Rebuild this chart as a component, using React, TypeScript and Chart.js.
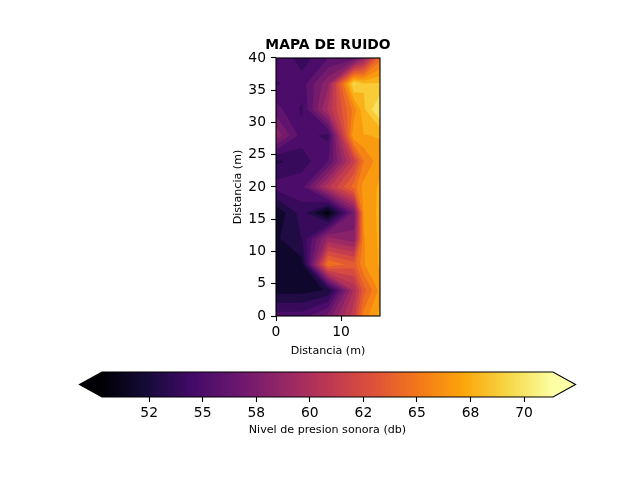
import React, { useRef, useEffect } from "react";
import Chart from "chart.js/auto";

// grid of the map
const distX = [0, 4, 8, 12, 13.5, 16];
const distY = [0, 4, 8, 12, 16, 20, 24, 28, 32, 36, 40];
// one row per distY, one value per distX
const noise = [
  [55, 55, 57, 61.5, 65.5, 67.5],
  [52, 52, 52.5, 60, 63.5, 66.5],
  [52, 52, 65, 63.5, 66, 67.3],
  [52.2, 53.5, 59, 58, 66, 67.4],
  [51.5, 54, 50.5, 57, 66.3, 67.4],
  [55, 55.2, 60.5, 64.5, 66.5, 67.3],
  [53.2, 54, 55.5, 61.5, 65, 66.8],
  [58.5, 55, 54.2, 67, 67.1, 67.2],
  [56, 54.3, 60, 65.5, 68, 70.5],
  [54.4, 55, 58.5, 69.5, 68.3, 68.3],
  [55.5, 54, 55.5, 56, 58.5, 64.5],
];

const xTicks = [0, 10];
const yTicks = [0, 5, 10, 15, 20, 25, 30, 35, 40];
const barTicks = [52.5, 55, 57.5, 60, 62.5, 65, 67.5, 70];
const barTickLabels = ["52", "55", "58", "60", "62", "65", "68", "70"];

const levelMin = 50.3;
const levelMax = 71.35;
const levelCount = 20;
const barSteps = 150;
const levels = Array.from({ length: levelCount + 1 }, (_, i) => levelMin + ((levelMax - levelMin) * i) / levelCount);

const inferno = [
  [0, 0, 4],
  [22, 11, 57],
  [66, 10, 104],
  [106, 23, 110],
  [147, 38, 103],
  [188, 55, 84],
  [221, 81, 58],
  [243, 120, 25],
  [252, 165, 10],
  [246, 215, 70],
  [252, 255, 164],
];

const FONT = "'DejaVu Sans'";

function colorAt(v: number) {
  const t = Math.min(1, Math.max(0, (v - levelMin) / (levelMax - levelMin))) * (inferno.length - 1);
  const i = Math.min(inferno.length - 2, Math.floor(t));
  const f = t - i;
  const c = inferno[i].map((a, k) => Math.round(a + (inferno[i + 1][k] - a) * f));
  return `rgb(${c[0]},${c[1]},${c[2]})`;
}

function bandColor(i: number) {
  return colorAt((levels[i] + levels[i + 1]) / 2);
}

// keep the part of a cell where value >= level
function clipCell(cell: number[][], level: number) {
  const out: number[][] = [];
  for (let i = 0; i < cell.length; i++) {
    const a = cell[i];
    const b = cell[(i + 1) % cell.length];
    if (a[2] >= level) out.push(a);
    if (a[2] >= level !== b[2] >= level) {
      const f = (level - a[2]) / (b[2] - a[2]);
      out.push([a[0] + (b[0] - a[0]) * f, a[1] + (b[1] - a[1]) * f, level]);
    }
  }
  return out;
}

const contourPlugin = {
  id: "contour",
  beforeDatasetsDraw(chart: any) {
    const { ctx, chartArea, scales } = chart;
    ctx.save();
    ctx.beginPath();
    ctx.rect(chartArea.left, chartArea.top, chartArea.right - chartArea.left, chartArea.bottom - chartArea.top);
    ctx.clip();
    for (let l = 0; l < levelCount; l++) {
      ctx.beginPath();
      for (let r = 0; r < distY.length - 1; r++) {
        for (let c = 0; c < distX.length - 1; c++) {
          const cell = [
            [distX[c], distY[r], noise[r][c]],
            [distX[c + 1], distY[r], noise[r][c + 1]],
            [distX[c + 1], distY[r + 1], noise[r + 1][c + 1]],
            [distX[c], distY[r + 1], noise[r + 1][c]],
          ];
          const poly = clipCell(cell, levels[l]);
          poly.forEach((p, i) => {
            const px = scales.x.getPixelForValue(p[0]);
            const py = scales.y.getPixelForValue(p[1]);
            if (i === 0) ctx.moveTo(px, py);
            else ctx.lineTo(px, py);
          });
          if (poly.length) ctx.closePath();
        }
      }
      ctx.fillStyle = bandColor(l);
      ctx.fill();
    }
    ctx.restore();
  },
  afterDraw(chart: any) {
    const { ctx, chartArea } = chart;
    ctx.save();
    ctx.strokeStyle = "#000";
    ctx.lineWidth = 1.1;
    ctx.strokeRect(chartArea.left, chartArea.top, chartArea.right - chartArea.left, chartArea.bottom - chartArea.top);
    ctx.restore();
  },
};

const barPlugin = {
  id: "colorbar",
  afterDraw(chart: any) {
    const { ctx, chartArea, scales } = chart;
    const { top, bottom } = chartArea;
    const mid = (top + bottom) / 2;
    const x0 = scales.x.getPixelForValue(levelMin);
    const x1 = scales.x.getPixelForValue(levelMax);
    const ext = (x1 - x0) * 0.05;
    const step = (levelMax - levelMin) / barSteps;
    ctx.save();
    for (let l = 0; l < barSteps; l++) {
      const a = Math.round(scales.x.getPixelForValue(levelMin + step * l));
      const b = Math.round(scales.x.getPixelForValue(levelMin + step * (l + 1)));
      ctx.fillStyle = colorAt(levelMin + step * (l + 0.5));
      ctx.fillRect(a, top, b - a, bottom - top);
    }
    ctx.fillStyle = colorAt(levelMin - 1);
    ctx.beginPath();
    ctx.moveTo(x0 + 0.5, top);
    ctx.lineTo(x0 - ext, mid);
    ctx.lineTo(x0 + 0.5, bottom);
    ctx.fill();
    ctx.fillStyle = colorAt(levelMax + 1);
    ctx.beginPath();
    ctx.moveTo(x1 - 0.5, top);
    ctx.lineTo(x1 + ext, mid);
    ctx.lineTo(x1 - 0.5, bottom);
    ctx.fill();
    ctx.strokeStyle = "#000";
    ctx.lineWidth = 1.1;
    ctx.beginPath();
    ctx.moveTo(x0, top);
    ctx.lineTo(x1, top);
    ctx.lineTo(x1 + ext, mid);
    ctx.lineTo(x1, bottom);
    ctx.lineTo(x0, bottom);
    ctx.lineTo(x0 - ext, mid);
    ctx.closePath();
    ctx.stroke();
    ctx.restore();
  },
};

const tickFont = { family: FONT, size: 13.89 };
const labelFont = { family: FONT, size: 11.11 };
const axisGrid = { drawOnChartArea: false, drawTicks: true, tickLength: 5, tickColor: "#000", tickWidth: 1.1 };

const App = () => {
  const mapRef = useRef<HTMLCanvasElement>(null);
  const barRef = useRef<HTMLCanvasElement>(null);

  useEffect(() => {
    if (!mapRef.current || !barRef.current) return;
    const points = distY.flatMap((y, r) => distX.map((x, c) => ({ x, y, v: noise[r][c] })));
    const map = new Chart(mapRef.current, {
      type: "scatter",
      data: { datasets: [{ data: points, pointRadius: 0 }] },
      plugins: [contourPlugin],
      options: {
        responsive: false,
        animation: false,
        devicePixelRatio: 1,
        layout: { padding: { left: 16, right: 0, top: 37, bottom: 120 } },
        plugins: {
          legend: { display: false },
          tooltip: { enabled: false },
          title: {
            display: true,
            text: "MAPA DE RUIDO",
            color: "#000",
            font: { family: FONT, size: 13.89, weight: "bold" },
            padding: { top: 0, bottom: 4.3 },
          },
        },
        scales: {
          x: {
            type: "linear",
            min: 0,
            max: 16,
            afterBuildTicks: (s: any) => {
              s.ticks = xTicks.map((value) => ({ value }));
            },
            afterFit: (s: any) => {
              s.height = 44;
            },
            grid: axisGrid,
            border: { display: false },
            ticks: { color: "#000", font: tickFont, padding: 3, maxRotation: 0 },
            title: { display: true, text: "Distancia (m)", color: "#000", font: labelFont, padding: { top: 0, bottom: 2.4 } },
          },
          y: {
            type: "linear",
            min: 0,
            max: 40,
            afterBuildTicks: (s: any) => {
              s.ticks = yTicks.map((value) => ({ value }));
            },
            afterFit: (s: any) => {
              s.width = 260;
            },
            grid: axisGrid,
            border: { display: false },
            ticks: { color: "#000", font: tickFont, padding: 5 },
            title: { display: true, text: "Distancia (m)", color: "#000", font: labelFont, padding: { top: 215.3, bottom: 0 } },
          },
          // empty axis that keeps the plot narrow and the title centred on it
          pad: {
            type: "linear",
            axis: "y",
            position: "right",
            afterFit: (s: any) => {
              s.width = 260;
            },
            grid: { display: false },
            border: { display: false },
            ticks: { display: false },
          },
        },
      },
    } as any);

    const bar = new Chart(barRef.current, {
      type: "scatter",
      data: { datasets: [{ data: [], pointRadius: 0 }] },
      plugins: [barPlugin],
      options: {
        responsive: false,
        animation: false,
        devicePixelRatio: 1,
        layout: { padding: { left: 102, right: 87, top: 372, bottom: 41 } },
        plugins: { legend: { display: false }, tooltip: { enabled: false } },
        scales: {
          x: {
            type: "linear",
            min: levelMin,
            max: levelMax,
            afterBuildTicks: (s: any) => {
              s.ticks = barTicks.map((value) => ({ value }));
            },
            afterFit: (s: any) => {
              s.height = 42;
            },
            grid: axisGrid,
            border: { display: false },
            ticks: {
              color: "#000",
              font: tickFont,
              padding: 3,
              maxRotation: 0,
              autoSkip: false,
              callback: (v: any) => barTickLabels[barTicks.indexOf(v)],
            },
            title: {
              display: true,
              text: "Nivel de presion sonora (db)",
              color: "#000",
              font: labelFont,
              padding: { top: 0, bottom: 2.4 },
            },
          },
          y: { display: false, min: 0, max: 1 },
        },
      },
    } as any);

    return () => {
      map.destroy();
      bar.destroy();
    };
  }, []);

  const layer: React.CSSProperties = { position: "absolute", left: 0, top: 0, display: "block" };
  return (
    <div style={{ position: "fixed", left: 0, top: 0, width: 640, height: 480, background: "#fff" }}>
      <canvas ref={mapRef} width={640} height={480} style={layer} />
      <canvas ref={barRef} width={640} height={480} style={layer} />
    </div>
  );
};

export default App;
